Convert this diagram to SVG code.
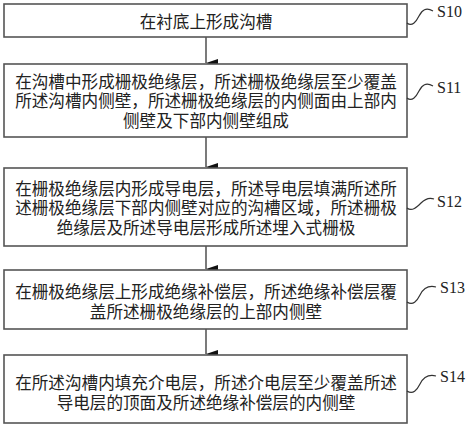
<svg xmlns="http://www.w3.org/2000/svg" width="474" height="428" viewBox="0 0 474 428">
<defs>
<style>
.box{fill:#fff;stroke:#555;stroke-width:1.6}
.t{font-family:"Noto Sans CJK SC","Noto Sans CJK JP",sans-serif;font-size:16.6px;fill:#222;text-anchor:middle;dominant-baseline:central}
.lbl{font-family:"Liberation Serif",serif;font-size:16px;fill:#222}
.sq{fill:none;stroke:#333;stroke-width:1.2}
.con{stroke:#222;stroke-width:1.2;fill:none}
</style>
<marker id="ah" viewBox="0 0 8 12" refX="4" refY="12" markerWidth="8" markerHeight="12" markerUnits="userSpaceOnUse" orient="auto-start-reverse">
<path d="M0,0 L8,0 L4,12 Z" fill="#111"/>
</marker>
</defs>
<rect width="474" height="428" fill="#fff"/>
<g id="connectors">
<line class="con" x1="206" y1="37" x2="206" y2="63" marker-end="url(#ah)"/>
<line class="con" x1="206" y1="137" x2="206" y2="167" marker-end="url(#ah)"/>
<line class="con" x1="206" y1="246" x2="206" y2="269" marker-end="url(#ah)"/>
<line class="con" x1="206" y1="293" x2="206" y2="354" marker-end="url(#ah)"/>
</g>
<g id="S10">
<rect class="box" x="4" y="4" width="403" height="33"/>
<text class="t" x="206" y="20.5">在衬底上形成沟槽</text>
<path class="sq" d="M407,23 C412,27 416,22 419,16 C422,10 426,7 433,11"/>
<text class="lbl" x="437" y="17">S10</text>
</g>
<g id="S11">
<rect class="box" x="4" y="64" width="403" height="73"/>
<text class="t" x="206" y="80.5">在沟槽中形成栅极绝缘层，所述栅极绝缘层至少覆盖</text>
<text class="t" x="206" y="100">所述沟槽内侧壁，所述栅极绝缘层的内侧面由上部内</text>
<text class="t" x="206" y="119.5">侧壁及下部内侧壁组成</text>
<path class="sq" d="M407,98 C412,102 416,97 419,91 C422,85 426,82 433,86"/>
<text class="lbl" x="437" y="93">S11</text>
</g>
<g id="S12">
<rect class="box" x="4" y="168" width="403" height="78"/>
<text class="t" x="206" y="187.5">在栅极绝缘层内形成导电层，所述导电层填满所述所</text>
<text class="t" x="206" y="207">述栅极绝缘层下部内侧壁对应的沟槽区域，所述栅极</text>
<text class="t" x="206" y="226.5">绝缘层及所述导电层形成所述埋入式栅极</text>
<path class="sq" d="M407,208 C412,212 417,207 421,203 C425,199 429,197 434,199"/>
<text class="lbl" x="437" y="207">S12</text>
</g>
<g id="S13">
<rect class="box" x="4" y="270" width="403" height="59"/>
<text class="t" x="206" y="291">在栅极绝缘层上形成绝缘补偿层，所述绝缘补偿层覆</text>
<text class="t" x="206" y="310.5">盖所述栅极绝缘层的上部内侧壁</text>
<path class="sq" d="M407,302 C413,306 417,301 420,295 C423,289 428,285 436,287"/>
<text class="lbl" x="440" y="293">S13</text>
</g>
<g id="S14">
<rect class="box" x="4" y="355" width="403" height="68"/>
<text class="t" x="206" y="382">在所述沟槽内填充介电层，所述介电层至少覆盖所述</text>
<text class="t" x="206" y="401.5">导电层的顶面及所述绝缘补偿层的内侧壁</text>
<path class="sq" d="M407,391 C413,395 417,390 420,384 C423,378 428,374 436,376"/>
<text class="lbl" x="440" y="382">S14</text>
</g>
</svg>
